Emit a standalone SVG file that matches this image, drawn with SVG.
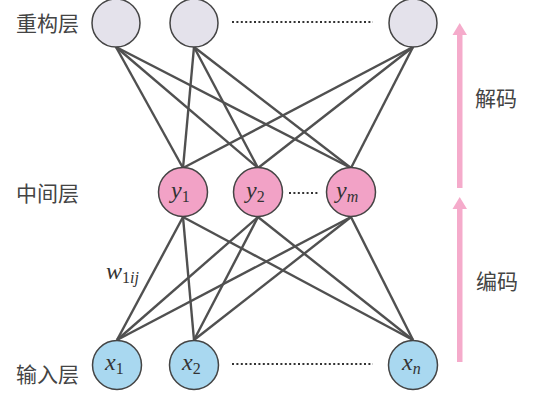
<svg xmlns="http://www.w3.org/2000/svg" width="537" height="400" viewBox="0 0 537 400">
<defs>
<style>
.lbl{font-family:"Noto Sans CJK SC","Noto Sans",sans-serif;font-size:21px;fill:#444}
.var{font-family:"Liberation Serif",serif;font-style:italic;font-size:24px;fill:#333}
.sub{font-size:16px;font-style:normal}
.subi{font-size:16px}
.top{fill:#e4e2eb;stroke:#444;stroke-width:1.5}
.mid{fill:#f2a2c6;stroke:#444;stroke-width:1.5}
.bot{fill:#a9d8f0;stroke:#444;stroke-width:1.5}
.edge{stroke:#505050;stroke-width:2.4;fill:none}
.dots{stroke:#333;stroke-width:2;stroke-dasharray:2 2.4;fill:none}
.arrow{fill:#f5abcb}
</style>
</defs>
<rect width="537" height="400" fill="#fff"/>
<g id="connectors">
<line class="edge" x1="116" y1="47" x2="183" y2="168"/>
<line class="edge" x1="116" y1="47" x2="258" y2="168"/>
<line class="edge" x1="116" y1="47" x2="351" y2="168"/>
<line class="edge" x1="194" y1="47" x2="183" y2="168"/>
<line class="edge" x1="194" y1="47" x2="258" y2="168"/>
<line class="edge" x1="194" y1="47" x2="351" y2="168"/>
<line class="edge" x1="413" y1="47" x2="183" y2="168"/>
<line class="edge" x1="413" y1="47" x2="258" y2="168"/>
<line class="edge" x1="413" y1="47" x2="351" y2="168"/>
<line class="edge" x1="117" y1="340" x2="183" y2="217"/>
<line class="edge" x1="117" y1="340" x2="258" y2="217"/>
<line class="edge" x1="117" y1="340" x2="351" y2="217"/>
<line class="edge" x1="194" y1="340" x2="183" y2="217"/>
<line class="edge" x1="194" y1="340" x2="258" y2="217"/>
<line class="edge" x1="194" y1="340" x2="351" y2="217"/>
<line class="edge" x1="413" y1="340" x2="183" y2="217"/>
<line class="edge" x1="413" y1="340" x2="258" y2="217"/>
<line class="edge" x1="413" y1="340" x2="351" y2="217"/>
<line class="dots" x1="232" y1="22" x2="373" y2="22"/>
<line class="dots" x1="289" y1="193" x2="318" y2="193"/>
<line class="dots" x1="232" y1="364" x2="373" y2="364"/>
</g>
<g id="layer-labels">
<text class="lbl" x="16" y="31">重构层</text>
<text class="lbl" x="16" y="201">中间层</text>
<text class="lbl" x="16" y="382">输入层</text>
</g>
<g id="top1"><circle class="top" cx="116" cy="23" r="24"/></g>
<g id="top2"><circle class="top" cx="194" cy="23" r="24"/></g>
<g id="top3"><circle class="top" cx="413" cy="23" r="24"/></g>
<g id="y1"><circle class="mid" cx="183" cy="192" r="24.5"/><text class="var" x="171" y="198">y<tspan class="sub" dy="4">1</tspan></text></g>
<g id="y2"><circle class="mid" cx="258" cy="192" r="24.5"/><text class="var" x="246" y="198">y<tspan class="sub" dy="4">2</tspan></text></g>
<g id="ym"><circle class="mid" cx="351" cy="192" r="24.5"/><text class="var" x="336" y="198">y<tspan class="subi" dy="4">m</tspan></text></g>
<g id="x1"><circle class="bot" cx="117" cy="365" r="24.5"/><text class="var" x="105" y="370">x<tspan class="sub" dy="4">1</tspan></text></g>
<g id="x2"><circle class="bot" cx="194" cy="365" r="24.5"/><text class="var" x="182" y="370">x<tspan class="sub" dy="4">2</tspan></text></g>
<g id="xn"><circle class="bot" cx="413" cy="365" r="24.5"/><text class="var" x="402" y="370">x<tspan class="subi" dy="4">n</tspan></text></g>
<g id="weight-label"><text class="var" x="106" y="279">w<tspan class="sub" dy="4">1</tspan><tspan class="subi">ij</tspan></text></g>
<g id="decode-arrow">
<rect class="arrow" x="457" y="33" width="5.5" height="155"/>
<polygon class="arrow" points="459.7,23 467,35 452.5,35"/>
<text class="lbl" x="475" y="106">解码</text>
</g>
<g id="encode-arrow">
<rect class="arrow" x="457" y="207" width="5.5" height="155"/>
<polygon class="arrow" points="459.7,197 467,209 452.5,209"/>
<text class="lbl" x="476" y="289">编码</text>
</g>
</svg>
